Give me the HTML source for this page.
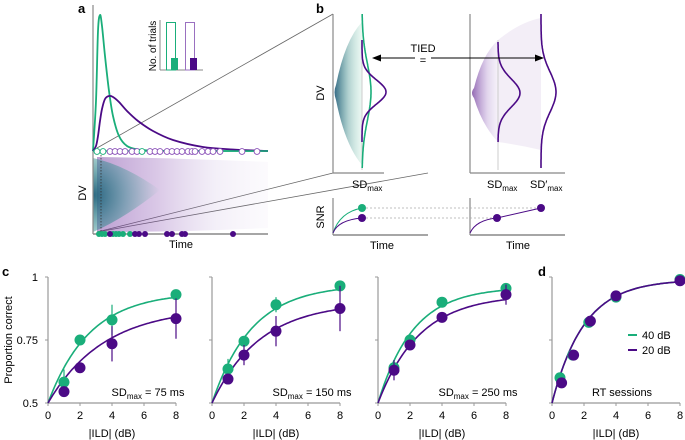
<!DOCTYPE html>
<html><head><meta charset="utf-8"><style>
body{margin:0;background:#fff}
svg{display:block;font-family:"Liberation Sans",Arial,sans-serif}
</style></head><body>
<svg id="fig" width="685" height="440" viewBox="0 0 685 440" xmlns="http://www.w3.org/2000/svg">
<defs>
<linearGradient id="cloudP" x1="0" x2="1" y1="0" y2="0">
<stop offset="0" stop-color="#6a2a9a" stop-opacity="0.45"/>
<stop offset="0.35" stop-color="#7a3aa8" stop-opacity="0.28"/>
<stop offset="0.7" stop-color="#a080c8" stop-opacity="0.12"/>
<stop offset="1" stop-color="#c0a8dc" stop-opacity="0.05"/>
</linearGradient>
<radialGradient id="cloudG" cx="0" cy="0.5" r="1">
<stop offset="0" stop-color="#1f5f7a" stop-opacity="0.95"/>
<stop offset="0.5" stop-color="#2a8a8a" stop-opacity="0.45"/>
<stop offset="1" stop-color="#40b090" stop-opacity="0"/>
</radialGradient>
<linearGradient id="cloudB" x1="0" x2="1"><stop offset="0" stop-color="#205a78" stop-opacity="0.9"/><stop offset="0.5" stop-color="#3a8a88" stop-opacity="0.4"/><stop offset="1" stop-color="#80d0b0" stop-opacity="0.15"/></linearGradient>
<linearGradient id="cloudR" x1="0" x2="1"><stop offset="0" stop-color="#5a1a8a" stop-opacity="0.65"/><stop offset="0.6" stop-color="#8a5ab8" stop-opacity="0.25"/><stop offset="1" stop-color="#b090d0" stop-opacity="0.12"/></linearGradient>
</defs>

<g stroke="#666" stroke-width="0.8">
<line x1="97" y1="148" x2="333" y2="14"/>
<line x1="97" y1="232" x2="333" y2="173"/>
<line x1="97" y1="232" x2="428" y2="173"/>
</g>

<g>
<text x="78" y="13" font-weight="bold" font-size="13">a</text>
<path d="M97,157 Q180,158 268,162 L268,228 Q180,232 97,232 Z" fill="url(#cloudP)"/>
<path d="M93,158 Q125,165 160,190 Q125,218 93,232 Z" fill="url(#cloudG)"/>
<line x1="101" y1="152" x2="101" y2="233" stroke="#333" stroke-width="0.8" stroke-dasharray="1.5,1.5"/>
<line x1="93" y1="5" x2="93" y2="234" stroke="#888" stroke-width="1.2"/>
<line x1="93" y1="234" x2="268" y2="234" stroke="#888" stroke-width="1.5"/>
<path id="rtG" fill="none" stroke="#1aae7a" stroke-width="1.8"/>
<path id="rtP" fill="none" stroke="#4b0a86" stroke-width="1.8"/>
<line x1="93" y1="151" x2="268" y2="151" stroke="#1aae7a" stroke-width="1.5"/>
<g id="openCircles"></g>
<g id="bottomDots"></g>
<text transform="translate(86,193) rotate(-90)" text-anchor="middle" font-size="11">DV</text>
<text x="181" y="248" text-anchor="middle" font-size="11">Time</text>
<g>
<line x1="160" y1="20" x2="160" y2="70" stroke="#888"/>
<line x1="160" y1="70" x2="203" y2="70" stroke="#888"/>
<rect x="166.5" y="22.5" width="9" height="47.5" fill="none" stroke="#1aae7a" stroke-width="1"/>
<rect x="171" y="58" width="7" height="12" fill="#1aae7a"/>
<rect x="185.5" y="22.5" width="9" height="47.5" fill="none" stroke="#9a70c0" stroke-width="1"/>
<rect x="190" y="58" width="7" height="12" fill="#4b0a86"/>
<text transform="translate(156,46) rotate(-90)" text-anchor="middle" font-size="10">No. of trials</text>
</g>
</g>

<g>
<text x="316" y="13" font-weight="bold" font-size="13">b</text>
<path d="M362,22 Q345,40 336,85 Q333,92 336,100 Q345,145 362,165 Z" fill="url(#cloudB)"/>
<path d="M498,40 Q482,55 474,88 Q470,93 474,98 Q482,125 498,142 Z" fill="url(#cloudR)"/>
<path d="M498,40 Q520,22 541,18 L541,150 Q520,145 498,142 Z" fill="#9a70c0" opacity="0.12"/>
<line x1="333" y1="14" x2="333" y2="173" stroke="#888" stroke-width="1.2"/>
<line x1="333" y1="173" x2="384" y2="173" stroke="#888" stroke-width="1.2"/>
<line x1="470" y1="14" x2="470" y2="173" stroke="#888" stroke-width="1.2"/>
<line x1="470" y1="173" x2="565" y2="173" stroke="#888" stroke-width="1.2"/>
<line x1="362" y1="40" x2="362" y2="170" stroke="#ccc"/>
<line x1="498" y1="40" x2="498" y2="170" stroke="#ccc"/>
<path id="gaussBG" fill="none" stroke="#1aae7a" stroke-width="1.6"/>
<path id="gaussBP" fill="none" stroke="#4b0a86" stroke-width="1.6"/>
<path id="gaussBR1" fill="none" stroke="#4b0a86" stroke-width="1.6"/>
<path id="gaussBR2" fill="none" stroke="#4b0a86" stroke-width="1.6"/>
<line x1="378" y1="58" x2="537" y2="58" stroke="#000" stroke-width="1"/>
<polygon points="372,58 381,54.5 381,61.5" fill="#000"/>
<polygon points="544,58 535,54.5 535,61.5" fill="#000"/>
<rect x="415" y="52" width="16" height="12" fill="#fff"/>
<text x="423" y="52" text-anchor="middle" font-size="11">TIED</text>
<text x="423" y="64" text-anchor="middle" font-size="11">=</text>
<text transform="translate(324,93) rotate(-90)" text-anchor="middle" font-size="11">DV</text>
<text x="352" y="188" font-size="11">SD<tspan font-size="8" dy="3">max</tspan></text>
<text x="487" y="188" font-size="11">SD<tspan font-size="8" dy="3">max</tspan></text>
<text x="530" y="188" font-size="11">SD′<tspan font-size="8" dy="3">max</tspan></text>
<line x1="333" y1="198" x2="333" y2="235" stroke="#888" stroke-width="1.2"/>
<line x1="333" y1="235" x2="428" y2="235" stroke="#888" stroke-width="1.5"/>
<line x1="470" y1="198" x2="470" y2="235" stroke="#888" stroke-width="1.2"/>
<line x1="470" y1="235" x2="565" y2="235" stroke="#888" stroke-width="1.5"/>
<path d="M333,233 Q340,212 362,208" fill="none" stroke="#1aae7a" stroke-width="1"/>
<path d="M333,233 Q338,220 362,218" fill="none" stroke="#4b0a86" stroke-width="1"/>
<path d="M470,233 Q476,220 497,218 L541,208" fill="none" stroke="#4b0a86" stroke-width="1"/>
<line x1="362" y1="208" x2="541" y2="208" stroke="#aaa" stroke-width="0.8" stroke-dasharray="2,2"/>
<line x1="362" y1="218" x2="497" y2="218" stroke="#aaa" stroke-width="0.8" stroke-dasharray="2,2"/>
<circle cx="362" cy="208" r="4" fill="#1aae7a"/><circle cx="362" cy="218" r="4" fill="#4b0a86"/>
<circle cx="497" cy="218" r="4" fill="#4b0a86"/><circle cx="541" cy="208" r="4" fill="#4b0a86"/>
<text transform="translate(324,217) rotate(-90)" text-anchor="middle" font-size="11">SNR</text>
<text x="382" y="249" text-anchor="middle" font-size="11">Time</text>
<text x="518" y="249" text-anchor="middle" font-size="11">Time</text>
</g>

<text x="2" y="276" font-weight="bold" font-size="13">c</text>
<text x="538" y="276" font-weight="bold" font-size="13">d</text>
<text transform="translate(12,340) rotate(-90)" text-anchor="middle" font-size="11">Proportion correct</text>
<g id="psy"></g>
<g>
<line x1="628" y1="335" x2="637" y2="335" stroke="#1aae7a" stroke-width="2"/>
<text x="642" y="339" font-size="11">40 dB</text>
<line x1="628" y1="350" x2="637" y2="350" stroke="#4b0a86" stroke-width="2"/>
<text x="642" y="354" font-size="11">20 dB</text>
</g>
</svg>
<script>
const G='#1aae7a',P='#4b0a86';
const ildC=[1,2,4,8];
const ildDG=[0.5,1.3,2.3,4,8];
const ildDP=[0.6,1.35,2.4,4,8];
const p1Green=[0.583,0.75,0.83,0.93];
const p1Purple=[0.545,0.64,0.735,0.835];
const p2Green=[0.635,0.745,0.89,0.965];
const p2Purple=[0.595,0.69,0.785,0.875];
const p3Green=[0.64,0.75,0.9,0.955];
const p3Purple=[0.63,0.73,0.84,0.93];
const p4Green=[0.6,0.69,0.82,0.92,0.99];
const p4Purple=[0.58,0.69,0.825,0.925,0.985];
const p1GreenErr=[0.05,0.01,0.06,0.02];
const p1PurpleErr=[0.01,0.01,0.07,0.08];
const p2GreenErr=[0.04,0.02,0.03,0.02];
const p2PurpleErr=[0.02,0.04,0.06,0.09];
const p3GreenErr=[0.03,0.02,0.01,0.02];
const p3PurpleErr=[0.04,0.02,0.01,0.04];
const fitGreen=[[0.44,2.6],[0.47,2.5],[0.46,2.2],[0.49,2.0]];
const fitPurple=[[0.38,3.5],[0.40,3.0],[0.43,2.6],[0.49,2.0]];
const xTicks=[0,2,4,6,8];
const yTicks=[0.5,0.75,1];
const yTickLabels=['0.5','0.75','1'];
const panelNotes=['SD_max = 75 ms','SD_max = 150 ms','SD_max = 250 ms','RT sessions'];
const panelX0=[48,212,378,552];
const openCircleX=[97,103,110,115,120,125,132,137,142,150,155,160,167,172,177,182,188,192,195,202,208,213,220,242,257];
const openCircleGreen=[1,1,0,0,0,0,0,0,1,0,0,0,0,0,0,0,0,0,0,0,0,0,0,0,0];
const dotGreenX=[99,102,105,113,116,119,123,130];
const dotPurpleX=[110,135,139,145,167,172,182,185,233];
const rtTime=[0,3,5,7,9,12,16,20,26,34,45,60,80,110,140,175];
const rtGreen=[0,50,120,136,125,95,60,35,15,5,1.5,0.3,0,0,0,0];
const rtPurple=[0,5,15,30,42,52,55,54,49,40,30,20,11,4,1.5,0];

const ns='http://www.w3.org/2000/svg';
function mk(t,a,parent){const e=document.createElementNS(ns,t);for(const k in a)e.setAttribute(k,a[k]);parent.appendChild(e);return e;}
const psy=document.getElementById('psy');
const yS=v=>403-(v-0.5)*252;
const greens=[p1Green,p2Green,p3Green,p4Green],purples=[p1Purple,p2Purple,p3Purple,p4Purple];
const gErr=[p1GreenErr,p2GreenErr,p3GreenErr,null],pErr=[p1PurpleErr,p2PurpleErr,p3PurpleErr,null];
for(let i=0;i<4;i++){
  const x0=panelX0[i];const xS=v=>x0+v*16;
  const g=mk('g',{},psy);
  
  
  const ya=mk('line',{x1:x0,y1:277,x2:x0,y2:403,stroke:'#999','stroke-width':1.2},g);
  
  
  mk('line',{x1:x0,y1:403,x2:x0+128,y2:403,stroke:'#999','stroke-width':1.2},g);
  yTicks.forEach((t,k)=>{
    mk('line',{x1:x0-3,y1:yS(t),x2:x0,y2:yS(t),stroke:'#999'},g);
    if(i===0){const tx=mk('text',{x:x0-10,y:yS(t)+4,'text-anchor':'end','font-size':11},g);tx.textContent=yTickLabels[k];
      
      }
  });
  xTicks.forEach(t=>{
    mk('line',{x1:xS(t),y1:403,x2:xS(t),y2:406,stroke:'#999'},g);
    const tx=mk('text',{x:xS(t),y:419,'text-anchor':'middle','font-size':11},g);tx.textContent=t;
    
    
  });
  const xt=mk('text',{x:x0+64,y:437,'text-anchor':'middle','font-size':11},g);xt.textContent='|ILD| (dB)';
  
  
  const note=panelNotes[i];
  const nt=mk('text',{x:i===3?x0+70:x0+100,y:396,'text-anchor':'middle','font-size':11},g);
  if(note.startsWith('SD_max')){nt.innerHTML='SD<tspan font-size="8" dy="3">max</tspan><tspan dy="-3">'+note.slice(6)+'</tspan>';}else nt.textContent=note;
  
  
  [[fitGreen[i],G,'green'],[fitPurple[i],P,'purple']].forEach(([f,col,nm])=>{
    let d='';for(let k=0;k<=80;k++){const x=k/10;const y=0.5+f[0]*(1-Math.exp(-x/f[1]));d+=(k?'L':'M')+xS(x).toFixed(1)+','+yS(y).toFixed(1);}
    const fl=mk('path',{d:d,fill:'none',stroke:col,'stroke-width':1.6},g);
    
    
  });
  [[G,greens[i],gErr[i],i===3?ildDG:ildC,'green'],[P,purples[i],pErr[i],i===3?ildDP:ildC,'purple']].forEach(([col,vals,err,xs,nm])=>{
    vals.forEach((v,k)=>{
      if(err){mk('line',{x1:xS(xs[k]),y1:yS(v-err[k]),x2:xS(xs[k]),y2:yS(v+err[k]),stroke:col,'stroke-width':1.2},g);}
      const c=mk('circle',{cx:xS(xs[k]),cy:yS(v),r:5.5,fill:col},g);
      
      
    });
  });
}
const oc=document.getElementById('openCircles');
openCircleX.forEach((x,k)=>{const c=mk('circle',{cx:x,cy:151.5,r:2.9,fill:'#fff',stroke:openCircleGreen[k]?G:'#8a50b8','stroke-width':0.9},oc);
  
  });
const bd=document.getElementById('bottomDots');
dotGreenX.forEach(x=>{const c=mk('circle',{cx:x,cy:234,r:3,fill:G},bd);
  
  });
dotPurpleX.forEach(x=>{const c=mk('circle',{cx:x,cy:234,r:3,fill:P},bd);
  
  });
const tX=t=>93+t;const dY=v=>151-v;
function smooth(vals){const pts=rtTime.map((t,k)=>[tX(t),dY(vals[k])]);let d='M'+pts[0];for(let k=0;k<pts.length-1;k++){const p0=pts[k-1]||pts[k],p1=pts[k],p2=pts[k+1],p3=pts[k+2]||p2;
  d+=' C'+(p1[0]+(p2[0]-p0[0])/6)+','+(p1[1]+(p2[1]-p0[1])/6)+' '+(p2[0]-(p3[0]-p1[0])/6)+','+(p2[1]-(p3[1]-p1[1])/6)+' '+p2[0]+','+p2[1];}return d+' L268,151';}
document.getElementById('rtG').setAttribute('d',smooth(rtGreen));
document.getElementById('rtP').setAttribute('d',smooth(rtPurple));
function gauss(xb,yTop,yBot,yc,sd,amp){let d='';for(let y=yTop,k=0;y<=yBot;y+=1,k++){const x=xb+amp*Math.exp(-((y-yc)**2)/(2*sd*sd));d+=(k?'L':'M')+x.toFixed(1)+','+y;}return d;}
document.getElementById('gaussBG').setAttribute('d',gauss(362,14,168,92,28,9));
document.getElementById('gaussBP').setAttribute('d',gauss(362,40,142,92,12,24));
document.getElementById('gaussBR1').setAttribute('d',gauss(498,42,142,93,14,22));
document.getElementById('gaussBR2').setAttribute('d',gauss(541,14,168,92,20,15));
</script>
</body></html>
